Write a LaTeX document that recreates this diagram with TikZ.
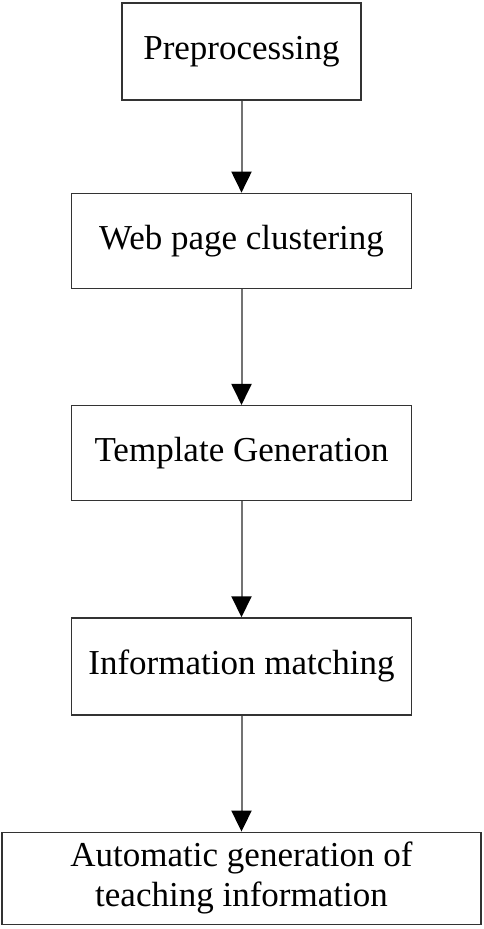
\documentclass[tikz,border=0pt]{standalone}
\usepackage{fontspec}
\setmainfont{Liberation Serif}
\usetikzlibrary{arrows.meta,positioning}

\begin{document}
\begin{tikzpicture}[->,>={Triangle[width=20pt,length=21pt,color=black]},
                    node distance=116pt,
                    stage node/.style={rectangle,draw=black!80,line width=1.3pt,
                      minimum width=340pt,minimum height=95pt,align=center,
                      font=\fontsize{35}{40}\selectfont}]

  \useasboundingbox (0,0) rectangle (483pt,-929pt);

  \node[stage node,minimum width=239pt,minimum height=97pt] (pre) at (241.5pt,-51.5pt) {Preprocessing};
  \node[stage node] (web) [below=92pt of pre] {Web page clustering};
  \node[stage node] (tmpl) [below=of web] {Template Generation};
  \node[stage node,minimum height=97pt] (match) [below=of tmpl] {Information matching};
  \node[stage node,minimum width=479pt,minimum height=92pt] (auto) [below=of match]
    {Automatic generation of\\teaching information};

  \path[draw=black!55,line width=2pt]
    (pre) edge (web)
    (web) edge (tmpl)
    (tmpl) edge (match)
    (match) edge (auto);
\end{tikzpicture}
\end{document}
